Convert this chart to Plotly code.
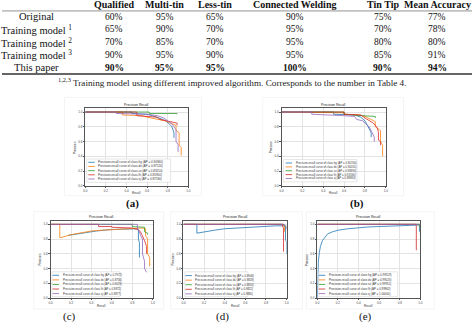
import plotly.graph_objects as go

W, H = 474, 324

# ---------------- table data ----------------
col_headers = ["Qualified", "Multi-tin", "Less-tin", "Connected Welding", "Tin Tip", "Mean Accuracy"]
row_labels = ["Original", "Training model <sup>1</sup>", "Training model <sup>2</sup>",
              "Training model <sup>3</sup>", "This paper"]
qualified = ["60%", "65%", "70%", "90%", "90%"]
multi_tin = ["95%", "90%", "85%", "95%", "95%"]
less_tin = ["65%", "70%", "70%", "90%", "95%"]
connected_welding = ["90%", "95%", "95%", "95%", "100%"]
tin_tip = ["75%", "70%", "80%", "85%", "90%"]
mean_accuracy = ["77%", "78%", "80%", "91%", "94%"]
footnote = "<sup>1,2,3</sup> Training model using different improved algorithm. Corresponds to the number in Table 4."

# ---------------- PR curve data ----------------
classes = ["hg", "dx", "sx", "lh", "xj"]
panel_labels = ["(a)", "(b)", "(c)", "(d)", "(e)"]

ap_a = ["0.90960", "0.87520", "0.83150", "0.85950", "0.87590"]
ap_b = ["0.90700", "0.90210", "0.93890", "0.91590", "0.88980"]
ap_c = ["0.7972", "0.8756", "0.9029", "0.8872", "0.8877"]
ap_d = ["0.9946", "0.9828", "0.9950", "0.9822", "0.9880"]
ap_e = ["0.99519", "0.99023", "0.99951", "0.99862", "1.00000"]

recall_a = [
    [0, 0.45, 0.45, 0.6, 0.65, 0.7, 0.75, 0.78, 0.8, 0.82, 0.84, 0.85, 0.86, 0.86],
    [0, 0.36, 0.36, 0.55, 0.6, 0.7, 0.78, 0.84, 0.88, 0.88, 0.91, 0.91, 0.93, 0.93],
    [0, 0.62, 0.62, 0.89, 0.89],
    [0, 0.5, 0.5, 0.62, 0.7, 0.72, 0.78, 0.82, 0.86, 0.89, 0.89],
    [0, 0.3, 0.3, 0.6, 0.7, 0.76, 0.8, 0.84, 0.86, 0.88, 0.88, 0.9, 0.9],
]
precision_a = [
    [1, 1, 0.98, 0.97, 0.95, 0.93, 0.9, 0.88, 0.86, 0.83, 0.8, 0.76, 0.72, 0.65],
    [1, 1, 0.96, 0.95, 0.93, 0.9, 0.88, 0.84, 0.82, 0.75, 0.72, 0.55, 0.52, 0.41],
    [1, 1, 0.98, 0.98, 0.97],
    [1, 1, 0.95, 0.94, 0.93, 0.9, 0.88, 0.87, 0.86, 0.85, 0.82],
    [1, 1, 0.98, 0.97, 0.95, 0.92, 0.88, 0.84, 0.8, 0.76, 0.6, 0.56, 0.46],
]

recall_b = [
    [0, 0.5, 0.5, 0.7, 0.76, 0.8, 0.82, 0.84, 0.86, 0.86],
    [0, 0.3, 0.3, 0.6, 0.6, 0.75, 0.8, 0.85, 0.9, 0.9, 0.95, 0.95, 0.97, 0.97],
    [0, 0.6, 0.6, 0.78, 0.78, 0.9, 0.9],
    [0, 0.6, 0.6, 0.76, 0.8, 0.85, 0.88, 0.9, 0.92, 0.93, 0.93, 0.95, 0.95],
    [0, 0.29, 0.29, 0.55, 0.6, 0.7, 0.72, 0.75, 0.78, 0.8, 0.84, 0.87, 0.89, 0.89],
]
precision_b = [
    [1, 1, 0.97, 0.96, 0.93, 0.88, 0.83, 0.78, 0.72, 0.66],
    [1, 1, 0.99, 0.99, 0.97, 0.96, 0.94, 0.9, 0.87, 0.8, 0.75, 0.6, 0.55, 0.4],
    [1, 1, 0.97, 0.96, 0.95, 0.94, 0.92],
    [1, 1, 0.97, 0.96, 0.92, 0.88, 0.85, 0.82, 0.78, 0.72, 0.62, 0.6, 0.55],
    [1, 1, 0.97, 0.96, 0.95, 0.94, 0.9, 0.89, 0.88, 0.85, 0.8, 0.72, 0.66, 0.6],
]

recall_c = [
    [0.17, 0.3, 0.45, 0.6, 0.75, 0.85, 0.86, 0.86, 0.87, 0.87],
    [0, 0.09, 0.09, 0.1, 0.2, 0.3, 0.4, 0.5, 0.6, 0.7, 0.8, 0.9, 0.93, 0.93, 0.95, 0.95, 0.97, 0.97],
    [0, 0.8, 0.8, 0.92, 0.92, 0.95, 0.95],
    [0, 0.47, 0.47, 0.6, 0.6, 0.8, 0.85, 0.88, 0.9, 0.92, 0.94, 0.94],
    [0, 0.85, 0.85, 0.87, 0.88, 0.9, 0.9, 0.92, 0.92, 0.94],
]
precision_c = [
    [0.85, 0.88, 0.91, 0.93, 0.94, 0.94, 0.92, 0.8, 0.75, 0.55],
    [1, 1, 0.82, 0.82, 0.86, 0.89, 0.91, 0.92, 0.93, 0.94, 0.95, 0.95, 0.94, 0.85, 0.8, 0.6, 0.55, 0.43],
    [1, 1, 0.97, 0.96, 0.9, 0.88, 0.86],
    [1, 1, 0.97, 0.97, 0.96, 0.95, 0.93, 0.9, 0.85, 0.78, 0.7, 0.6],
    [1, 1, 0.95, 0.9, 0.85, 0.8, 0.6, 0.5, 0.4, 0.35],
]

recall_d = [
    [0, 0.13, 0.13, 0.2, 0.3, 0.4, 0.5, 0.6, 0.7, 0.8, 0.9, 0.97, 0.99, 0.99, 1.0, 1.0],
    [0, 0.96, 0.96, 0.98, 0.98],
    [0, 0.97, 0.97, 0.99, 0.99],
    [0, 0.96, 0.96, 0.97, 0.97],
    [0, 0.98, 0.98, 1.0, 1.0],
]
precision_d = [
    [1, 1, 0.88, 0.9, 0.92, 0.94, 0.95, 0.96, 0.97, 0.975, 0.98, 0.98, 0.97, 0.8, 0.75, 0.6],
    [1, 1, 0.98, 0.97, 0.9],
    [1, 1, 0.99, 0.98, 0.96],
    [1, 1, 0.97, 0.95, 0.63],
    [1, 1, 0.98, 0.97, 0.93],
]

recall_e = [
    [0, 0.005, 0.01, 0.02, 0.03, 0.05, 0.08, 0.1, 0.15, 0.2, 0.3, 0.4, 0.5, 0.6, 0.7, 0.8, 0.9, 0.98, 0.99, 0.99],
    [0, 0.99, 0.99, 1.0],
    [0, 0.99, 0.99, 1.0, 1.0],
    [0, 0.955, 0.955, 0.96, 0.96],
    [0, 1.0],
]
precision_e = [
    [0, 0.3, 0.5, 0.62, 0.7, 0.78, 0.84, 0.87, 0.9, 0.92, 0.94, 0.955, 0.965, 0.97, 0.975, 0.98, 0.985, 0.99, 0.98, 0.9],
    [1, 1, 0.99, 0.98],
    [1, 1, 0.98, 0.95, 0.85],
    [1, 1, 0.99, 0.98, 0.65],
    [1, 1],
]

recalls = [recall_a, recall_b, recall_c, recall_d, recall_e]
precisions = [precision_a, precision_b, precision_c, precision_d, precision_e]
aps = [ap_a, ap_b, ap_c, ap_d, ap_e]

# ---------------- styling / geometry ----------------
colors = ["#1f77b4", "#ff7f0e", "#2ca02c", "#d62728", "#9467bd"]
SERIF = "Liberation Serif"
SANS = "Liberation Sans"


def px(x):
    return x / W


def py(y):
    return 1 - y / H


def note(text, x, y, size, family=SANS, color="#333", xanchor="center", angle=0):
    return dict(text=text, x=px(x), y=py(y), xref="paper", yref="paper", showarrow=False,
                xanchor=xanchor, yanchor="middle", textangle=angle,
                font=dict(size=size, color=color, family=family))


# frame pixel boxes: (left, right, top, bottom)
frames = [(84, 188, 109, 187), (282, 387, 109, 187),
          (49, 152, 222, 300), (183, 287, 222, 300), (318, 422, 222, 300)]
# faint outline of each embedded figure image
image_boxes = [(63, 201, 98, 197), (263, 405, 98, 197),
               (32, 163, 213, 311), (170, 303, 213, 311), (307, 436, 213, 311)]
label_pos = [(132, 205, True), (358, 205, True), (68, 318, False), (222, 318, False), (367, 318, False)]
legend_boxes = [(85.5, 160, 170, 183.5), (284, 160.5, 358, 183),
                (50.5, 273.5, 119, 298.5), (184.5, 273.5, 248, 298.5), (319.5, 273.5, 399, 298.5)]
legend_first = [163.3, 164, 277, 277.3, 277]
legend_step = [4.2, 3.9, 4.6, 4.6, 4.6]
legend_text_x = [95, 294, 59, 193, 327.5]
legend_font = [3.0, 2.8, 2.8, 2.8, 2.9]

fig = go.Figure()
shapes = []
annotations = []
layout_axes = {}

for i in range(5):
    n = i + 1
    xa = "x" if n == 1 else f"x{n}"
    ya = "y" if n == 1 else f"y{n}"
    xkey = "xaxis" if n == 1 else f"xaxis{n}"
    ykey = "yaxis" if n == 1 else f"yaxis{n}"
    l, r, t, b = frames[i]
    axis_common = dict(
        showline=True, mirror=True, linecolor="#555", linewidth=0.6,
        showgrid=True, gridcolor="#e3e3e3", gridwidth=0.5, zeroline=False,
        ticks="outside", ticklen=1.5, tickwidth=0.5, tickcolor="#555",
        tickfont=dict(size=3, color="#444", family=SANS),
        tickvals=[0, 0.2, 0.4, 0.6, 0.8, 1.0],
        ticktext=["0.0", "0.2", "0.4", "0.6", "0.8", "1.0"],
        fixedrange=True,
    )
    layout_axes[xkey] = dict(domain=[px(l), px(r)], range=[0, 1], anchor=ya, **axis_common)
    layout_axes[ykey] = dict(domain=[py(b), py(t)], range=[0, 1.05], anchor=xa, **axis_common)

    ix0, ix1, iy0, iy1 = image_boxes[i]
    shapes.append(dict(type="rect", xref="paper", yref="paper", layer="below",
                       x0=px(ix0), x1=px(ix1), y0=py(iy1), y1=py(iy0),
                       line=dict(color="#ececec", width=0.6)))

    for k in range(5):
        fig.add_trace(go.Scatter(
            x=recalls[i][k], y=precisions[i][k], mode="lines",
            line=dict(color=colors[k], width=0.8),
            xaxis=xa, yaxis=ya, showlegend=False, hoverinfo="skip",
        ))

    # title, axis titles
    annotations.append(note("Precision Recall", (l + r) / 2, t - 3.5, 3.4, color="#222"))
    annotations.append(note("Recall", (l + r) / 2, b + 7.5, 3))
    annotations.append(note("Precision", l - 10.5, (t + b) / 2, 3, angle=-90))

    # legend box drawn by hand
    bx0, by0, bx1, by1 = legend_boxes[i]
    shapes.append(dict(type="rect", xref="paper", yref="paper",
                       x0=px(bx0), x1=px(bx1), y0=py(by1), y1=py(by0),
                       line=dict(color="#cfcfcf", width=0.5), fillcolor="rgba(255,255,255,0.85)"))
    tx = legend_text_x[i]
    for k in range(5):
        yy = legend_first[i] + k * legend_step[i]
        shapes.append(dict(type="line", xref="paper", yref="paper",
                           x0=px(tx - 8), x1=px(tx - 1.5), y0=py(yy), y1=py(yy),
                           line=dict(color=colors[k], width=0.8)))
        annotations.append(note(f"Precision-recall curve of class {classes[k]} (AP = {aps[i][k]})",
                                tx, yy, legend_font[i], xanchor="left"))

    # panel label
    lx, ly, bold = label_pos[i]
    annotations.append(note(f"<b>{panel_labels[i]}</b>" if bold else panel_labels[i],
                            lx, ly, 11, family=SERIF, color="#111"))

# ---------------- table ----------------
col_x = [113, 164, 215, 295, 384, 439]
header_y = 5
row_y = [17, 29.5, 42.5, 55, 68]
row_label_x = 35
table_cols = [qualified, multi_tin, less_tin, connected_welding, tin_tip, mean_accuracy]

for j, h in enumerate(col_headers):
    annotations.append(note(f"<b>{h}</b>", col_x[j], header_y, 10, family=SERIF, color="#111"))
for r_i, lab in enumerate(row_labels):
    annotations.append(note(lab, row_label_x, row_y[r_i], 10.5, family=SERIF, color="#111"))
    for j, col in enumerate(table_cols):
        val = col[r_i]
        if r_i == len(row_labels) - 1:
            val = f"<b>{val}</b>"
        annotations.append(note(val, col_x[j], row_y[r_i], 9.5, family=SERIF, color="#111"))

shapes.append(dict(type="line", xref="paper", yref="paper", x0=0, x1=1,
                   y0=py(11), y1=py(11), line=dict(color="#777", width=0.8)))
shapes.append(dict(type="line", xref="paper", yref="paper", x0=0, x1=1,
                   y0=py(74.5), y1=py(74.5), line=dict(color="#333", width=1.5)))
annotations.append(note(footnote, 232, 83, 9.2, family=SERIF, color="#222"))

fig.update_layout(
    width=W, height=H, margin=dict(l=0, r=0, t=0, b=0),
    paper_bgcolor="white", plot_bgcolor="white",
    shapes=shapes, annotations=annotations, showlegend=False,
    **layout_axes,
)

fig.write_html("out.html", config={"displayModeBar": False})
